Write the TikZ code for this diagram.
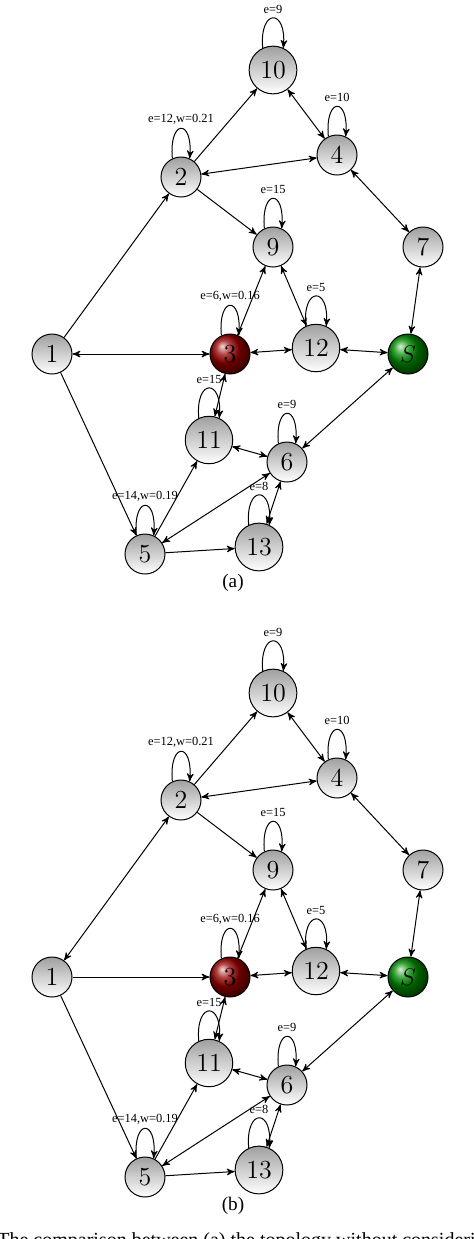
\documentclass[tikz,border=0pt]{standalone}
\usepackage{fontspec}
\usepackage{tikz}
\usetikzlibrary{shapes, positioning, arrows, calc}
\newfontfamily\labelfont{Liberation Serif}
\tikzstyle{vertex}=[circle, draw=black, line width=0.5pt, top color=gray!75, bottom color=white,
  minimum size=20pt, inner sep=3pt, font=\fontsize{13}{13}\selectfont]
\tikzstyle{sourceVertex}=[vertex, ball color=red!60!black]
\tikzstyle{sinkVertex}=[vertex, ball color=green!55!black]
\tikzstyle{link}=[->, >=stealth', line width=0.5pt, draw=black]
\tikzstyle{selfLoop}=[link, to path={(\tikztostart.115) .. controls +(95:20pt) and +(85:20pt)
  .. (\tikztotarget.65) \tikztonodes}]
\tikzstyle{loopLabel}=[above, inner sep=2pt, font=\labelfont\fontsize{6.2}{7}\selectfont]
\tikzstyle{panelTag}=[inner sep=0pt, font=\labelfont\fontsize{9.6}{10}\selectfont]

\begin{document}
\begin{tikzpicture}[x=0.5pt, y=0.5pt]
  \useasboundingbox (0,0) rectangle (474,-1239);
  \clip (0,0) rectangle (474,-1239);
  \foreach \p/\dy in {a/0, b/623}{
    \begin{scope}[shift={(0,-\dy)}]
      % the nodes
      \node[vertex] (\p-10) at (273,-70) {10};
      \node[vertex] (\p-4) at (337,-155) {4};
      \node[vertex] (\p-2) at (181,-177) {2};
      \node[vertex] (\p-9) at (273,-247) {9};
      \node[vertex] (\p-7) at (423,-247) {7};
      \node[vertex] (\p-1) at (52,-354) {1};
      \node[sourceVertex] (\p-3) at (230,-354) {3};
      \node[vertex] (\p-12) at (316,-348) {12};
      \node[sinkVertex] (\p-S) at (408,-354) {$S$};
      \node[vertex] (\p-11) at (209,-440) {11};
      \node[vertex] (\p-6) at (287,-462) {6};
      \node[vertex] (\p-5) at (145,-554) {5};
      \node[vertex] (\p-13) at (259,-547) {13};
      \node[panelTag] (\p-tag) at (233,-583) {(\p)};
      % the links
      \draw[link] (\p-2) -- (\p-10);
      \draw[link, <->] (\p-10) -- (\p-4);
      \draw[link, <->] (\p-2) -- (\p-4);
      \draw[link] (\p-2) -- (\p-9);
      \draw[link, <->] (\p-4) -- (\p-7);
      \draw[link, <->] (\p-7) -- (\p-S);
      \draw[link] (\p-3) -- (\p-9);
      \draw[link, <->] (\p-9) -- (\p-12);
      \draw[link, <->] (\p-3) -- (\p-12);
      \draw[link, <->] (\p-12) -- (\p-S);
      \draw[link, <->] (\p-3) -- (\p-11);
      \draw[link, <->] (\p-S) -- (\p-6);
      \draw[link, <->] (\p-11) -- (\p-6);
      \draw[link] (\p-1) -- (\p-5);
      \draw[link] (\p-5) -- (\p-11);
      \draw[link, <->] (\p-5) -- (\p-6);
      \draw[link] (\p-5) -- (\p-13);
      \draw[link, <->] (\p-6) -- (\p-13);
      % the self loops
      \path (\p-10) edge[selfLoop] node[loopLabel] {e=9} (\p-10)
            (\p-4) edge[selfLoop] node[loopLabel] {e=10} (\p-4)
            (\p-2) edge[selfLoop] node[loopLabel] {e=12,w=0.21} (\p-2)
            (\p-9) edge[selfLoop] node[loopLabel] {e=15} (\p-9)
            (\p-3) edge[selfLoop] node[loopLabel] {e=6,w=0.16} (\p-3)
            (\p-12) edge[selfLoop] node[loopLabel] {e=5} (\p-12)
            (\p-11) edge[selfLoop] node[loopLabel] {e=15} (\p-11)
            (\p-6) edge[selfLoop] node[loopLabel] {e=9} (\p-6)
            (\p-5) edge[selfLoop] node[loopLabel] {e=14,w=0.19} (\p-5)
            (\p-13) edge[selfLoop] node[loopLabel] {e=8} (\p-13);
    \end{scope}
  }
  % links that differ between (a) and (b)
  \draw[link] (a-1) -- (a-2);
  \draw[link, <->] (a-1) -- (a-3);
  \draw[link, <->] (b-1) -- (b-2);
  \draw[link] (b-1) -- (b-3);
  \node[anchor=base west, inner sep=0pt, font=\labelfont\fontsize{10}{11}\selectfont]
    (caption) at (-3,-1246) {The comparison between (a) the topology without considering};
\end{tikzpicture}
\end{document}
